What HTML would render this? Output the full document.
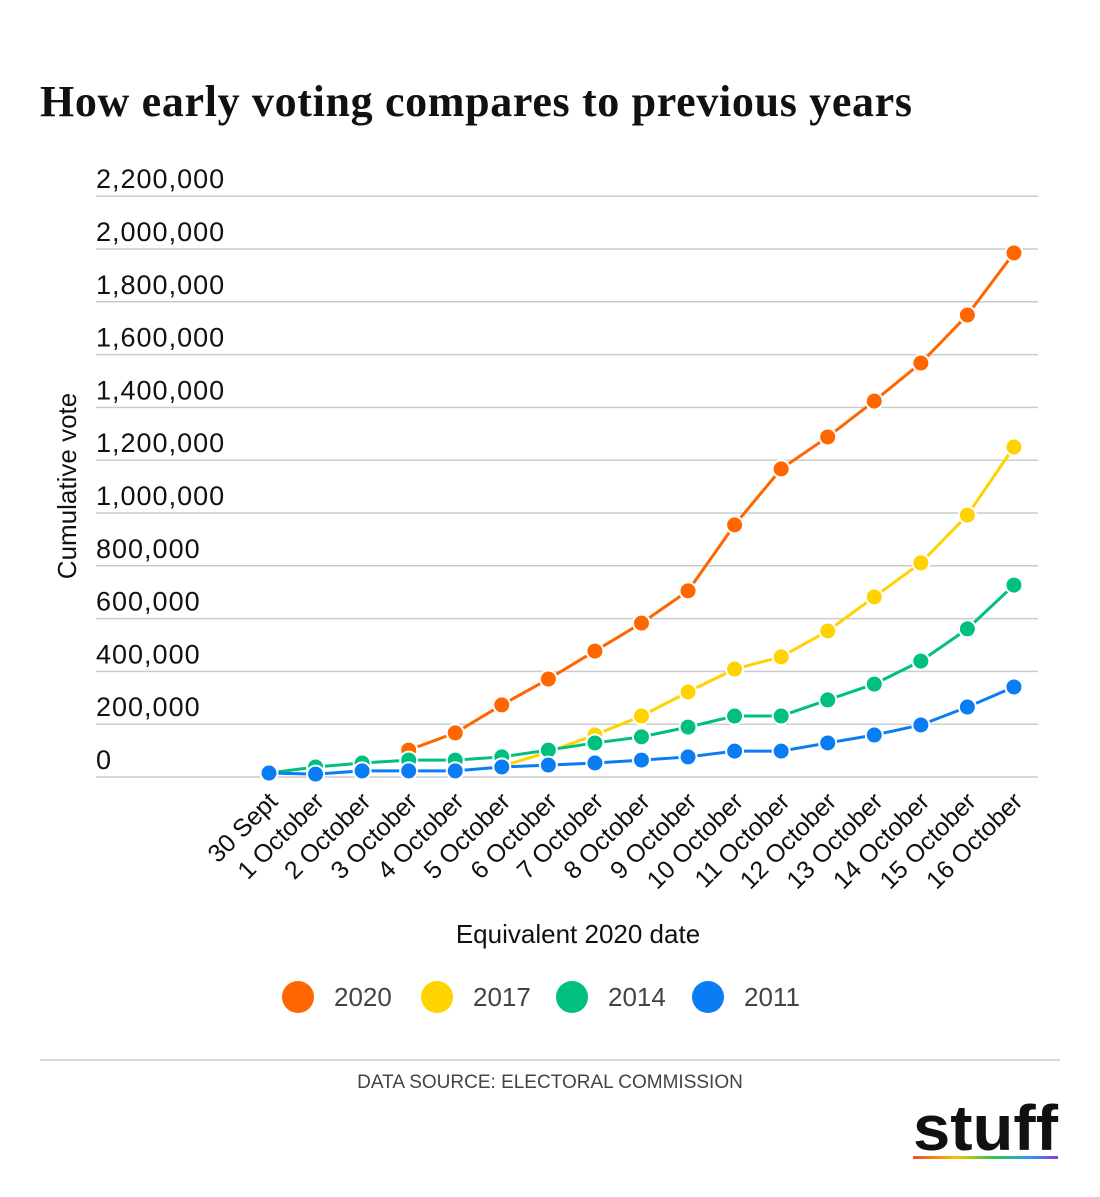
<!DOCTYPE html>
<html><head><meta charset="utf-8"><style>
body{margin:0;background:#fff;width:1100px;height:1192px;overflow:hidden;font-family:"Liberation Sans",sans-serif}
</style></head><body>
<svg width="1100" height="1192">
<text x="40" y="116" font-family="Liberation Serif, serif" font-weight="bold" font-size="44" fill="#111" textLength="872">How early voting compares to previous years</text>
<g id="grid"></g><g id="xt"></g><g id="series"></g>
<text transform="translate(76,486) rotate(-90)" text-anchor="middle" font-size="26" fill="#111">Cumulative vote</text>
<text x="578" y="943" text-anchor="middle" font-size="26" fill="#111">Equivalent 2020 date</text>
<g id="legend"></g>
<line x1="40" y1="1060" x2="1060" y2="1060" stroke="#ccc" stroke-width="1.5"/>
<text x="550" y="1088" text-anchor="middle" font-size="19" fill="#444">DATA SOURCE: ELECTORAL COMMISSION</text>
<text x="913" y="1150" font-size="64" font-weight="bold" fill="#111" textLength="145" lengthAdjust="spacingAndGlyphs">stuff</text>
<defs><linearGradient id="rb"><stop offset="0" stop-color="#f04a24"/><stop offset="0.3" stop-color="#f5c500"/><stop offset="0.55" stop-color="#3cc24a"/><stop offset="0.8" stop-color="#2a9df4"/><stop offset="1" stop-color="#8a3ccf"/></linearGradient></defs>
<rect x="913" y="1156" width="145" height="3" fill="url(#rb)"/>
</svg>
<script>
const categories=["30 Sept","1 October","2 October","3 October","4 October","5 October","6 October","7 October","8 October","9 October","10 October","11 October","12 October","13 October","14 October","15 October","16 October"];
const yTicks=[0,200000,400000,600000,800000,1000000,1200000,1400000,1600000,1800000,2000000,2200000];
const seriesNames=["2020","2017","2014","2011"];
const v2020=[null,null,null,102000,167000,273000,371000,477000,583000,705000,955000,1167000,1288000,1424000,1568000,1750000,1985000];
const v2017=[null,null,null,null,null,40000,95000,159000,231000,322000,409000,455000,553000,682000,811000,992000,1250000];
const v2014=[15000,38000,53000,64000,64000,76000,102000,129000,152000,189000,231000,231000,292000,352000,439000,561000,727000];
const v2011=[15000,11000,23000,23000,23000,38000,45000,53000,64000,76000,98000,98000,129000,159000,197000,265000,341000];
const colors=["#ff6600","#ffd200","#00c07f","#0a7df5"];
const NS="http://www.w3.org/2000/svg";
const x=i=>269+i*46.56, y=v=>777-v/200000*52.8;
function mk(t,a,p){const e=document.createElementNS(NS,t);for(const k in a)e.setAttribute(k,a[k]);p.appendChild(e);return e;}
const grid=document.getElementById('grid');
yTicks.forEach(t=>{
 const l=mk('line',{x1:96,x2:1038,y1:y(t),y2:y(t),stroke:'#ccc','stroke-width':1.5},grid);
 
 
 const tx=mk('text',{x:96,y:y(t)-8,'font-size':27,fill:'#111','letter-spacing':'1'},grid);
 tx.textContent=t.toLocaleString('en-US');
 
 
});
const xt=document.getElementById('xt');
categories.forEach((c,i)=>{
 const tx=mk('text',{transform:`translate(${x(i)+10},${803}) rotate(-45)`,'text-anchor':'end','font-size':25,fill:'#111'},xt);
 tx.textContent=c;
 
 
});
const sg=document.getElementById('series');
[v2020,v2017,v2014,v2011].forEach((arr,ci)=>{
 const pts=arr.map((v,i)=>v==null?null:[x(i),y(v)]).filter(p=>p);
 const pl=mk('polyline',{points:pts.map(p=>p.join(',')).join(' '),fill:'none',stroke:colors[ci],'stroke-width':3},sg);
 
 
 pts.forEach(p=>{
  const c=mk('circle',{cx:p[0],cy:p[1],r:8.5,fill:colors[ci],stroke:'#fff','stroke-width':2},sg);
  
  
 });
});
const lg=document.getElementById('legend');
const lx=[298,437,572,708];
seriesNames.forEach((n,i)=>{
 const c=mk('circle',{cx:lx[i],cy:997,r:16,fill:colors[i]},lg);
 
 
 const t=mk('text',{x:lx[i]+36,y:1006,'font-size':26,fill:'#444'},lg);
 t.textContent=n;
 
 
});
</script>
</body></html>
